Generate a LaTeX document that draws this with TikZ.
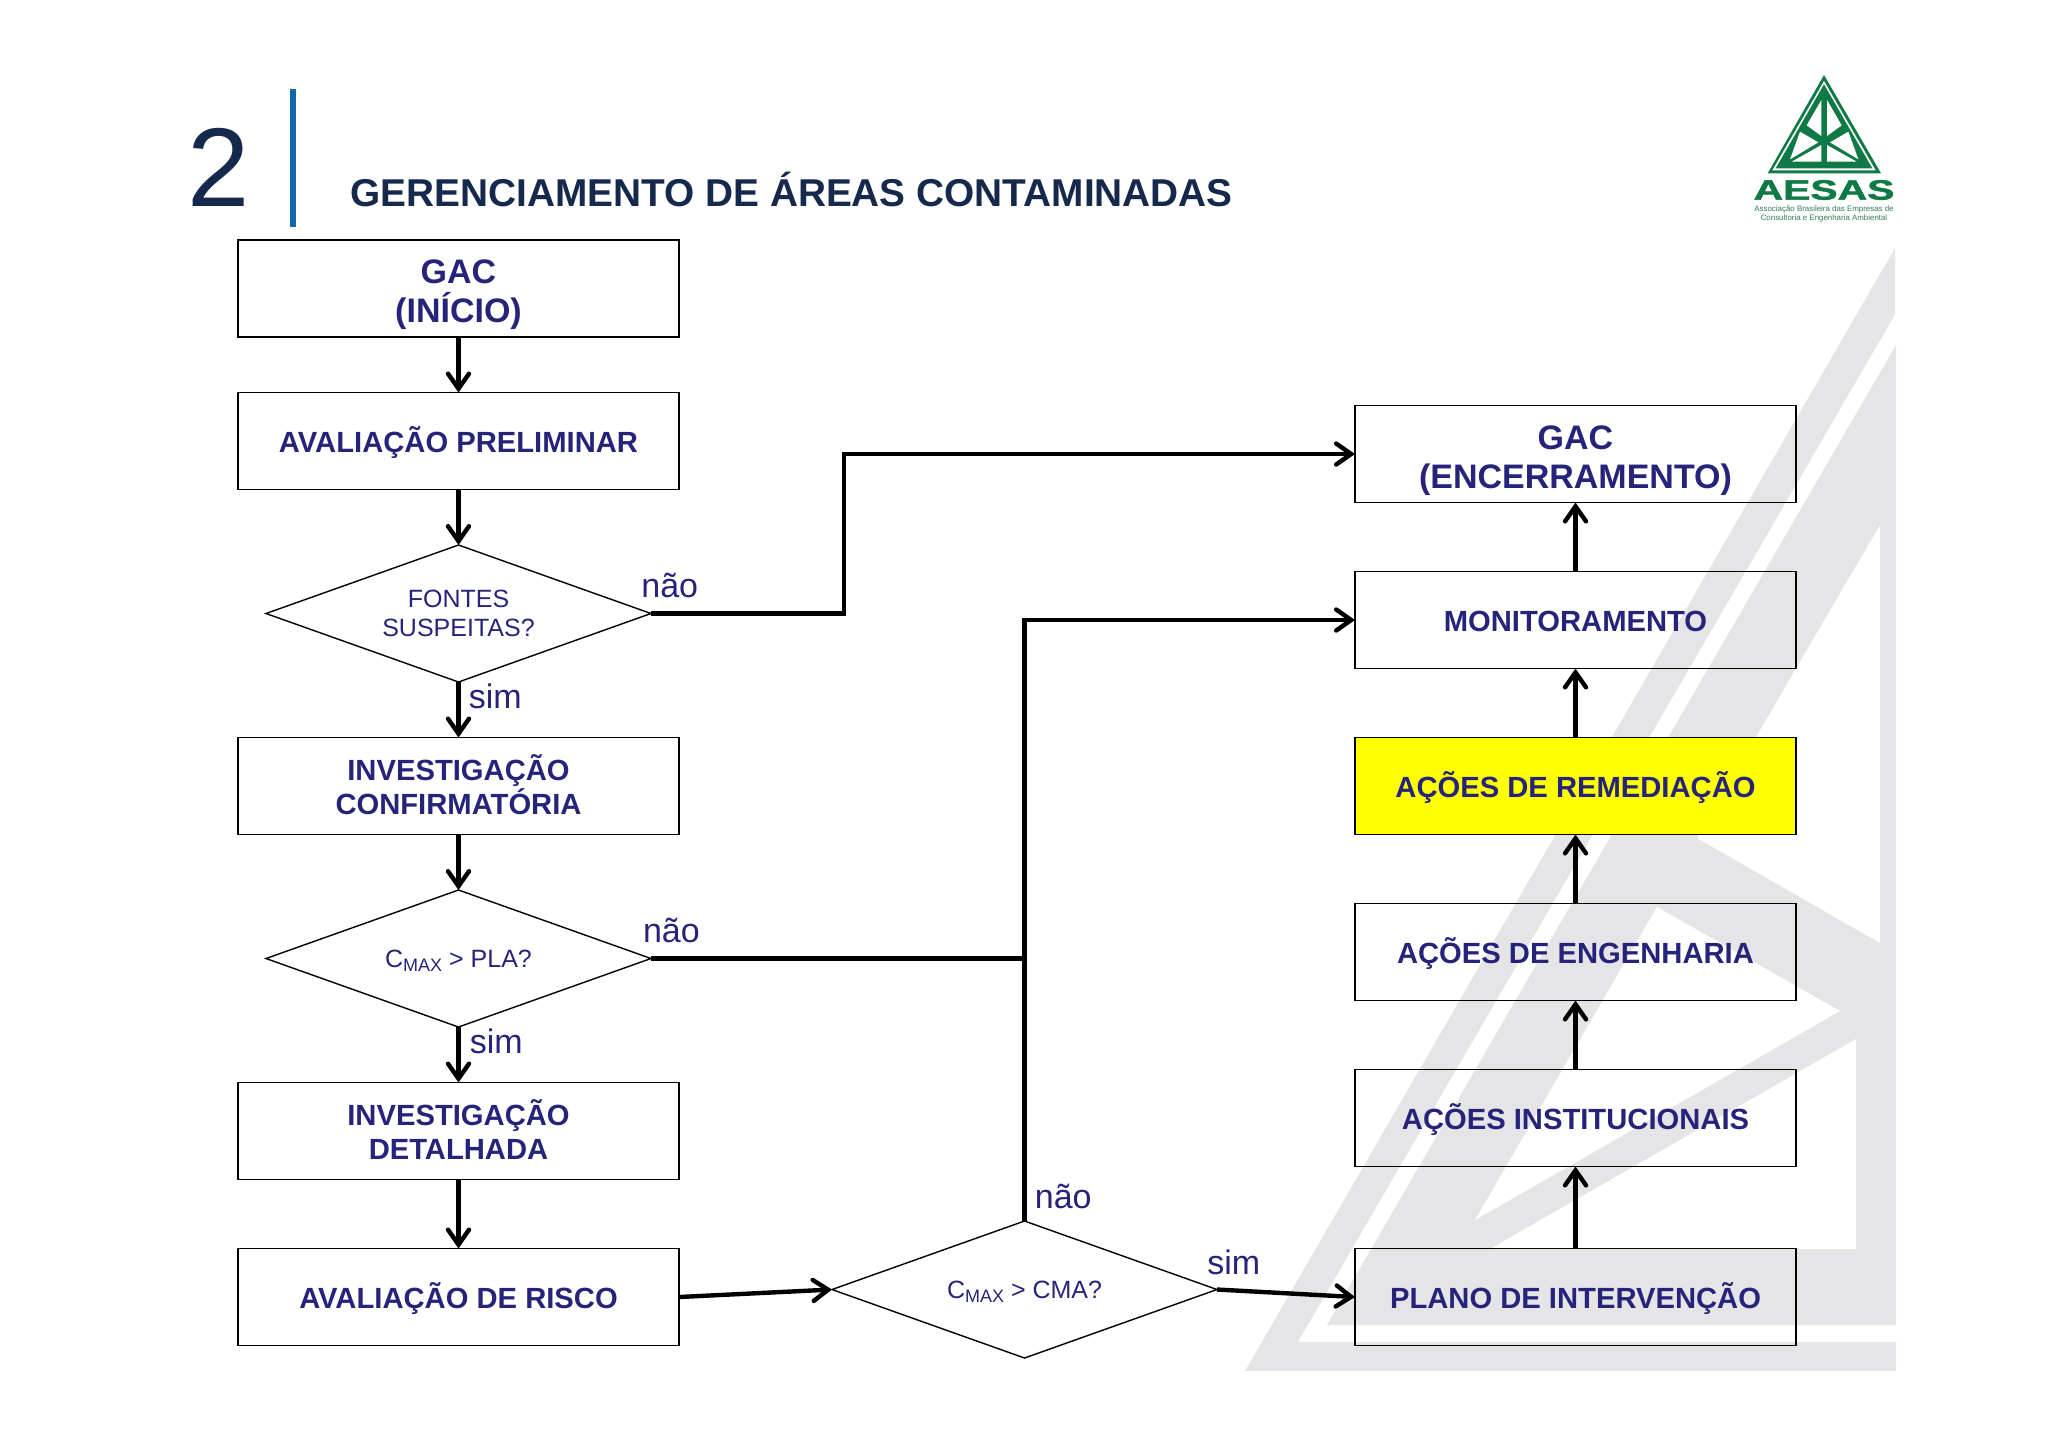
\documentclass[tikz,border=0pt]{standalone}
\usepackage{fontspec}
\setmainfont{Liberation Sans}
\usetikzlibrary{arrows.meta}
\usetikzlibrary{positioning}
\usetikzlibrary{shapes.geometric}
\definecolor{navy}{HTML}{26247A}
\definecolor{slate}{HTML}{14294B}
\definecolor{barblue}{HTML}{1268A8}
\definecolor{wmgray}{HTML}{E5E5E7}
\definecolor{aesasgreen}{HTML}{0F7A45}
\definecolor{remyellow}{RGB}{255,255,0}
\newcommand{\cmaxlabel}{C\raisebox{-2.2pt}{\fontsize{9}{9}\selectfont MAX}}
\tikzset{
  box node/.style={rectangle,draw=black,line width=0.7pt,minimum width=220.5pt,minimum height=48.5pt,inner sep=0pt,outer sep=0pt,align=center,text=navy,text depth=1.3pt,font=\fontsize{14.6}{17}\selectfont\bfseries},
  single node/.style={box node,text height=13pt,text depth=1.8pt},
  gac node/.style={box node,text height=34pt,text depth=0pt,font=\fontsize{17}{19.5}\selectfont\bfseries},
  choice node/.style={diamond,aspect=2.81,draw=black,line width=0.7pt,minimum width=192.5pt,minimum height=68.5pt,inner sep=0pt,outer sep=0pt,align=center,text=navy,font=\fontsize{12.5}{14.7}\selectfont},
  answer/.style={anchor=base west,inner sep=0pt,text=navy,font=\fontsize{17}{17}\selectfont},
  conn/.style={-{Straight Barb[length=7.5pt,width=10.5pt,line width=2.2pt,line cap=round]},line width=2.2pt,black}
}
\begin{document}
\begin{tikzpicture}
  [x=0.5pt,y=-0.5pt,node distance=27.75pt and 34.5pt]
  \useasboundingbox (0,0) rectangle (2048,1447);

  % watermark
  \fill[wmgray] (1895,248) -- (1896,1371) -- (1245,1371) -- cycle;
  \fill[white] (1896,313) -- (1896,1342) -- (1298,1342) -- cycle;
  \fill[wmgray] (1896,345) -- (1896,1325) -- (1327,1325) -- cycle;
  \fill[white] (1880,525) -- (1880,943) -- (1697,838) -- cycle;
  \fill[white] (1657,907) -- (1840,1011) -- (1475,1220) -- cycle;
  \fill[white] (1856,1039) -- (1856,1249) -- (1490,1249) -- cycle;

  % logo
  \begin{scope}[shift={(1680,50)},scale=1/3]
    \fill[aesasgreen] (432,75) -- (603,370) -- (263,370) -- cycle;
    \fill[white] (432,93) -- (587,361) -- (277,361) -- cycle;
    \fill[aesasgreen] (432,103) -- (577,355) -- (287,355) -- cycle;
    \foreach \mirror in {1,-1} {
      \begin{scope}[shift={(432.5,0)},xscale=\mirror,shift={(-432.5,0)}]
        \fill[white] (424,150) -- (424,258) -- (380,226) -- cycle;
        \fill[white] (360,245) -- (415,277) -- (330,328) -- cycle;
        \fill[white] (424,285) -- (424,335) -- (335,335) -- cycle;
      \end{scope}
    }
  \end{scope}
  \node[text=aesasgreen,inner sep=0pt,xscale=1.46,font=\fontsize{14}{14}\selectfont\bfseries\addfontfeature{FakeBold=1.5}] (aesas) at (1824,190) {AESAS};
  \node[text=aesasgreen!70!gray,inner sep=0pt,align=center,font=\fontsize{3.95}{4.1}\selectfont] (aesasname) at (1824,214) {Associação Brasileira das Empresas de\\Consultoria e Engenharia Ambiental};

  % header
  \node[anchor=base west,inner sep=0pt,text=slate,font=\fontsize{56}{56}\selectfont] (number) at (187,206) {2};
  \fill[barblue] (290,89) rectangle (296,227);
  \node[anchor=base west,inner sep=0pt,text=slate,font=\fontsize{19.4}{20}\selectfont\bfseries] (title) at (350,206) {GERENCIAMENTO DE ÁREAS CONTAMINADAS};

  % left column
  \node[gac node]    (gacstart)    at (458.5,288.5)            {GAC\\(INÍCIO)};
  \node[single node] (preliminar)  [below= of gacstart]        {AVALIAÇÃO PRELIMINAR};
  \node[choice node] (fontes)      [below= of preliminar]      {FONTES\\SUSPEITAS?};
  \node[box node]    (confirmatoria) [below= of fontes]        {INVESTIGAÇÃO\\CONFIRMATÓRIA};
  \node[choice node,text height=11pt] (pla) [below= of confirmatoria] {\cmaxlabel{} > PLA?};
  \node[box node]    (detalhada)   [below= of pla]             {INVESTIGAÇÃO\\DETALHADA};
  \node[single node] (risco)       [below=34.5pt of detalhada] {AVALIAÇÃO DE RISCO};

  % bottom row and right column
  \node[choice node,text height=11pt] (cma) [right=76.5pt of risco,yshift=3.75pt] {\cmaxlabel{} > CMA?};
  \node[single node] (plano)       [right=338pt of risco]      {PLANO DE INTERVENÇÃO};
  \node[single node] (institucional) [above=41pt of plano]     {AÇÕES INSTITUCIONAIS};
  \node[single node] (engenharia)  [above=34.5pt of institucional]   {AÇÕES DE ENGENHARIA};
  \node[single node,fill=remyellow] (remediacao) [above=34.5pt of engenharia] {AÇÕES DE REMEDIAÇÃO};
  \node[single node] (monitor)     [above=34.5pt of remediacao]      {MONITORAMENTO};
  \node[gac node]    (gacend)      [above=34.5pt of monitor]         {GAC\\(ENCERRAMENTO)};

  \coordinate[right=96.5pt of fontes.east] (bendfontes);

  \path[conn]
    (gacstart)      edge (preliminar)
    (preliminar)    edge (fontes)
    (fontes)        edge (confirmatoria)
    (confirmatoria) edge (pla)
    (pla)           edge (detalhada)
    (detalhada)     edge (risco)
    (risco.east)    edge (cma.west)
    (cma.east)      edge (plano.west)
    (plano)         edge (institucional)
    (institucional) edge (engenharia)
    (engenharia)    edge (remediacao)
    (remediacao)    edge (monitor)
    (monitor)       edge (gacend);
  \draw[conn] (fontes.east) -- (bendfontes) |- (gacend.west);
  \draw[conn] (cma.north) |- (monitor.west);
  \draw[line width=2.2pt] (pla.east) -- (pla.east -| cma.north);

  \node[answer] (naofontes) at ([xshift=-5pt,yshift=7.8pt]fontes.east)  {não};
  \node[answer] (simfontes) at ([xshift=5pt,yshift=-13pt]fontes.south) {sim};
  \node[answer] (naopla)    at ([xshift=-4.2pt,yshift=7.8pt]pla.east)   {não};
  \node[answer] (simpla)    at ([xshift=5.5pt,yshift=-13pt]pla.south)   {sim};
  \node[answer] (naocma)    at ([xshift=5pt,yshift=6.5pt]cma.north)     {não};
  \node[answer] (simcma)    at ([xshift=-5pt,yshift=7.5pt]cma.east)     {sim};
\end{tikzpicture}
\end{document}
